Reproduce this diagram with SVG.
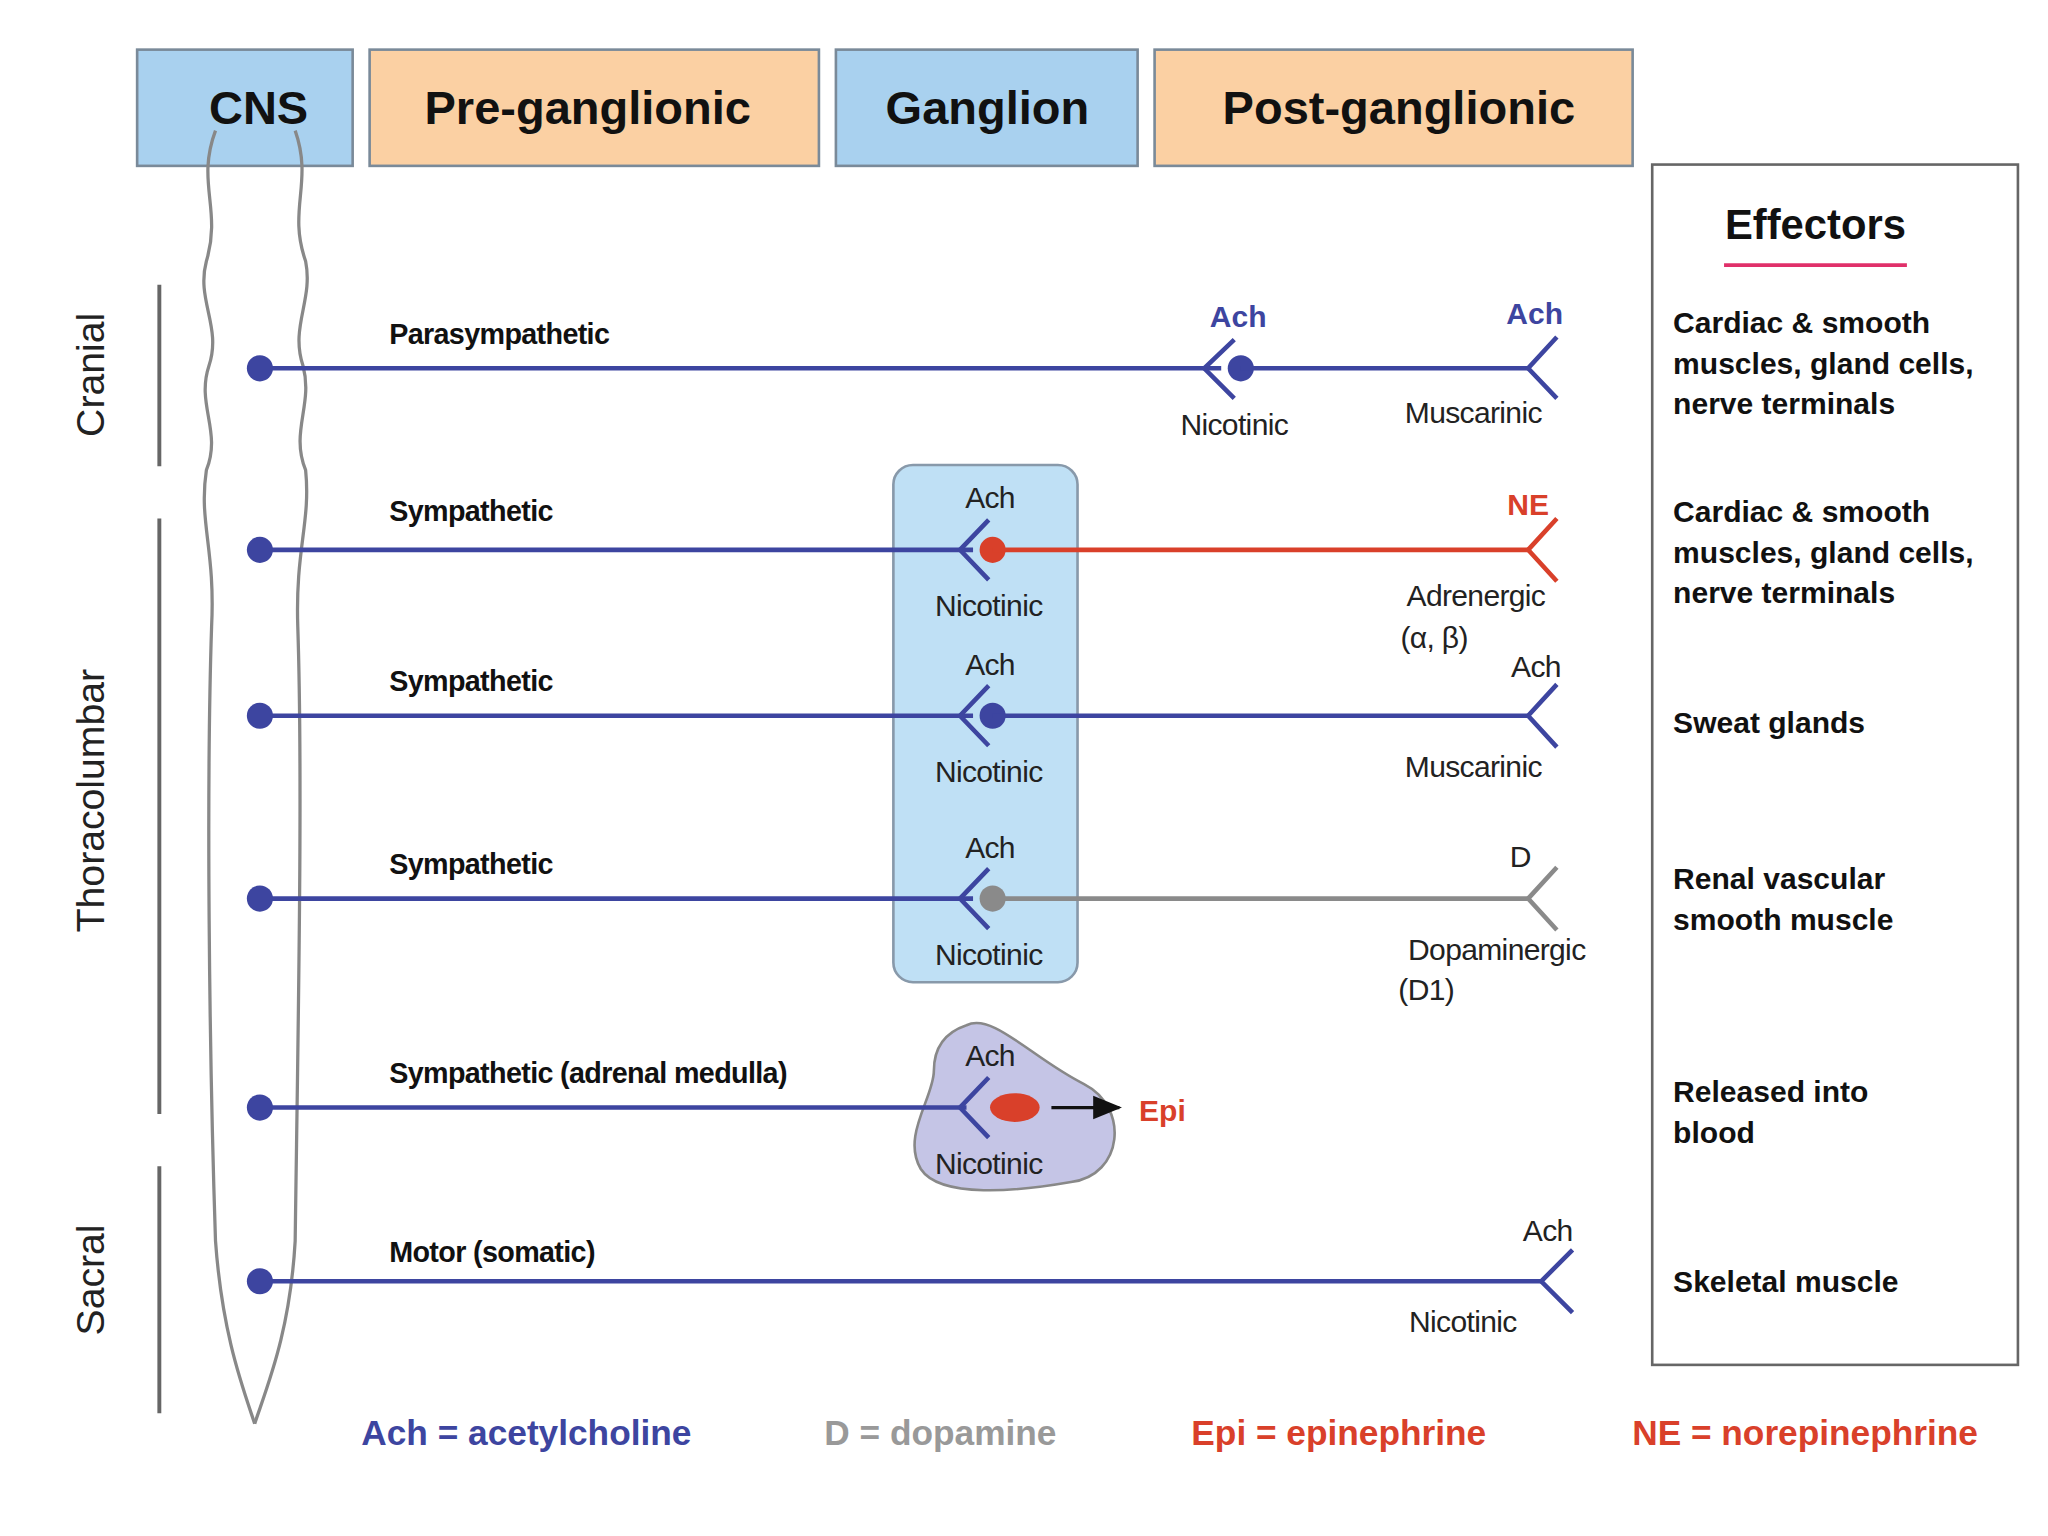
<svg xmlns="http://www.w3.org/2000/svg" width="2048" height="1536" viewBox="0 0 2048 1536">
<style>
text{font-family:"Liberation Sans",Arial,sans-serif}
.hd{font-size:36px;font-weight:bold;fill:#111;text-anchor:middle}
.rl{font-size:22px;font-weight:bold;fill:#111;letter-spacing:-0.5px}
.ef{font-size:23px;font-weight:bold;fill:#111;letter-spacing:0px}
.sm{font-size:23px;fill:#222;text-anchor:middle;letter-spacing:-0.5px}
.ab{font-size:23px;font-weight:bold;fill:#3d45a0;text-anchor:middle}
.lg{font-size:27px;font-weight:bold;text-anchor:middle}
.side{font-size:30px;fill:#222;text-anchor:middle}
.b{stroke:#3d45a0;stroke-width:3.5;fill:none}
.r{stroke:#d9402a;stroke-width:3.5;fill:none}
.g{stroke:#8a8a8a;stroke-width:3.5;fill:none}
</style>
<defs><marker id="ar" markerWidth="22" markerHeight="22" refX="20" refY="11" orient="auto" markerUnits="userSpaceOnUse" viewBox="0 0 22 22"><path d="M0,2 L22,11 L0,20 z" fill="#111"/></marker></defs>
<rect width="2048" height="1536" fill="#fff"/>
<g transform="scale(1.3061,1.3061)">
<g id="headers" stroke="#7a8a99" stroke-width="2">
<rect x="105" y="38" width="165" height="89" fill="#a9d1ef"/>
<rect x="283" y="38" width="344" height="89" fill="#fbd0a3"/>
<rect x="640" y="38" width="231" height="89" fill="#a9d1ef"/>
<rect x="884" y="38" width="366" height="89" fill="#fbd0a3"/>
</g>
<g id="header-text">
<text class="hd" x="198" y="95">CNS</text>
<text class="hd" x="450" y="95">Pre-ganglionic</text>
<text class="hd" x="756" y="95">Ganglion</text>
<text class="hd" x="1071" y="95">Post-ganglionic</text>
</g>
<g id="effectors">
<rect x="1265" y="126" width="280" height="919" fill="#fff" stroke="#666" stroke-width="2"/>
<text x="1390" y="183" font-size="32" font-weight="bold" text-anchor="middle" fill="#111">Effectors</text>
<line x1="1320" y1="203" x2="1460" y2="203" stroke="#e0306a" stroke-width="3"/>
<text class="ef" x="1281" y="255">Cardiac &amp; smooth</text>
<text class="ef" x="1281" y="286">muscles, gland cells,</text>
<text class="ef" x="1281" y="317">nerve terminals</text>
<text class="ef" x="1281" y="400">Cardiac &amp; smooth</text>
<text class="ef" x="1281" y="431">muscles, gland cells,</text>
<text class="ef" x="1281" y="462">nerve terminals</text>
<text class="ef" x="1281" y="561">Sweat glands</text>
<text class="ef" x="1281" y="681">Renal vascular</text>
<text class="ef" x="1281" y="712">smooth muscle</text>
<text class="ef" x="1281" y="844">Released into</text>
<text class="ef" x="1281" y="875">blood</text>
<text class="ef" x="1281" y="989">Skeletal muscle</text>
</g>
<g id="spinal-cord" fill="none" stroke="#888" stroke-width="2.5">
<path d="M165,100 C150,140 170,160 158,200 C150,230 170,250 160,280 C150,310 170,330 158,360 C152,400 165,420 162,480 C158,600 160,800 165,950 C170,1020 185,1060 195,1090"/>
<path d="M226,100 C240,140 220,160 234,200 C240,230 222,250 232,280 C240,310 222,330 234,360 C238,400 226,420 228,480 C232,600 228,800 226,950 C222,1020 205,1060 195,1090"/>
</g>
<g id="regions">
<line x1="122" y1="218" x2="122" y2="357" stroke="#666" stroke-width="3"/>
<line x1="122" y1="397" x2="122" y2="853" stroke="#666" stroke-width="3"/>
<line x1="122" y1="893" x2="122" y2="1082" stroke="#666" stroke-width="3"/>
<text class="side" transform="translate(80,287) rotate(-90)">Cranial</text>
<text class="side" transform="translate(80,613) rotate(-90)">Thoracolumbar</text>
<text class="side" transform="translate(80,980) rotate(-90)">Sacral</text>
</g>
<g id="ganglion-box"><rect x="684" y="356" width="141" height="396" rx="15" fill="#bfe0f5" stroke="#8899aa" stroke-width="2"/></g>
<g id="adrenal"><path d="M740,785 C760,775 790,810 830,830 C865,848 860,900 820,905 C780,912 720,918 705,895 C690,870 715,840 715,820 C715,800 725,790 740,785 Z" fill="#c5c5e6" stroke="#888" stroke-width="2"/></g>
<g id="connectors">
<line class="b" x1="199" y1="282" x2="935" y2="282"/>
<path class="b" d="M945,260 L922,282 L945,305"/>
<circle cx="950" cy="282" r="10" fill="#3d45a0"/>
<line class="b" x1="950" y1="282" x2="1170" y2="282"/>
<path class="b" d="M1192,258 L1170,282 L1192,305"/>
<line class="b" x1="199" y1="421" x2="745" y2="421"/>
<path class="b" d="M757,398 L735,421 L757,444"/>
<circle cx="760" cy="421" r="10" fill="#d9402a"/>
<line class="r" x1="760" y1="421" x2="1170" y2="421"/>
<path class="r" d="M1192,397 L1170,421 L1192,445"/>
<line class="b" x1="199" y1="548" x2="745" y2="548"/>
<path class="b" d="M757,525 L735,548 L757,571"/>
<circle cx="760" cy="548" r="10" fill="#3d45a0"/>
<line class="b" x1="760" y1="548" x2="1170" y2="548"/>
<path class="b" d="M1192,524 L1170,548 L1192,572"/>
<line class="b" x1="199" y1="688" x2="745" y2="688"/>
<path class="b" d="M757,665 L735,688 L757,711"/>
<circle cx="760" cy="688" r="10" fill="#8a8a8a"/>
<line class="g" x1="760" y1="688" x2="1170" y2="688"/>
<path class="g" d="M1192,664 L1170,688 L1192,712"/>
<line class="b" x1="199" y1="848" x2="740" y2="848"/>
<path class="b" d="M757,825 L735,848 L757,871"/>
<ellipse cx="777" cy="848" rx="19" ry="11" fill="#d9402a"/>
<line x1="805" y1="848" x2="857" y2="848" stroke="#111" stroke-width="2.5" marker-end="url(#ar)"/>
<line class="b" x1="199" y1="981" x2="1182" y2="981"/>
<path class="b" d="M1204,957 L1180,981 L1204,1005"/>
<g fill="#3d45a0"><circle cx="199" cy="282" r="10"/><circle cx="199" cy="421" r="10"/><circle cx="199" cy="548" r="10"/><circle cx="199" cy="688" r="10"/><circle cx="199" cy="848" r="10"/><circle cx="199" cy="981" r="10"/></g>
</g>
<g id="labels">
<text class="rl" x="298" y="263">Parasympathetic</text>
<text class="rl" x="298" y="399">Sympathetic</text>
<text class="rl" x="298" y="529">Sympathetic</text>
<text class="rl" x="298" y="669">Sympathetic</text>
<text class="rl" x="298" y="829">Sympathetic (adrenal medulla)</text>
<text class="rl" x="298" y="966">Motor (somatic)</text>
<text class="ab" x="948" y="250">Ach</text>
<text class="sm" x="945" y="333">Nicotinic</text>
<text class="ab" x="1175" y="248">Ach</text>
<text class="sm" x="1128" y="324">Muscarinic</text>
<text class="sm" x="758" y="389">Ach</text>
<text class="sm" x="757" y="472">Nicotinic</text>
<text x="1170" y="394" font-size="23" font-weight="bold" fill="#d9402a" text-anchor="middle">NE</text>
<text class="sm" x="1130" y="464">Adrenergic</text>
<text class="sm" x="1098" y="496">(α, β)</text>
<text class="sm" x="758" y="517">Ach</text>
<text class="sm" x="757" y="599">Nicotinic</text>
<text class="sm" x="1176" y="518">Ach</text>
<text class="sm" x="1128" y="595">Muscarinic</text>
<text class="sm" x="758" y="657">Ach</text>
<text class="sm" x="757" y="739">Nicotinic</text>
<text class="sm" x="1164" y="664">D</text>
<text class="sm" x="1146" y="735">Dopaminergic</text>
<text class="sm" x="1092" y="766">(D1)</text>
<text class="sm" x="758" y="816">Ach</text>
<text class="sm" x="757" y="899">Nicotinic</text>
<text x="890" y="858" font-size="23" font-weight="bold" fill="#d9402a" text-anchor="middle">Epi</text>
<text class="sm" x="1185" y="950">Ach</text>
<text class="sm" x="1120" y="1020">Nicotinic</text>
</g>
<g id="legend">
<text class="lg" x="403" y="1106" fill="#3d45a0">Ach = acetylcholine</text>
<text class="lg" x="720" y="1106" fill="#999">D = dopamine</text>
<text class="lg" x="1025" y="1106" fill="#d9402a">Epi = epinephrine</text>
<text class="lg" x="1382" y="1106" fill="#d9402a">NE = norepinephrine</text>
</g>
</g>
</svg>
